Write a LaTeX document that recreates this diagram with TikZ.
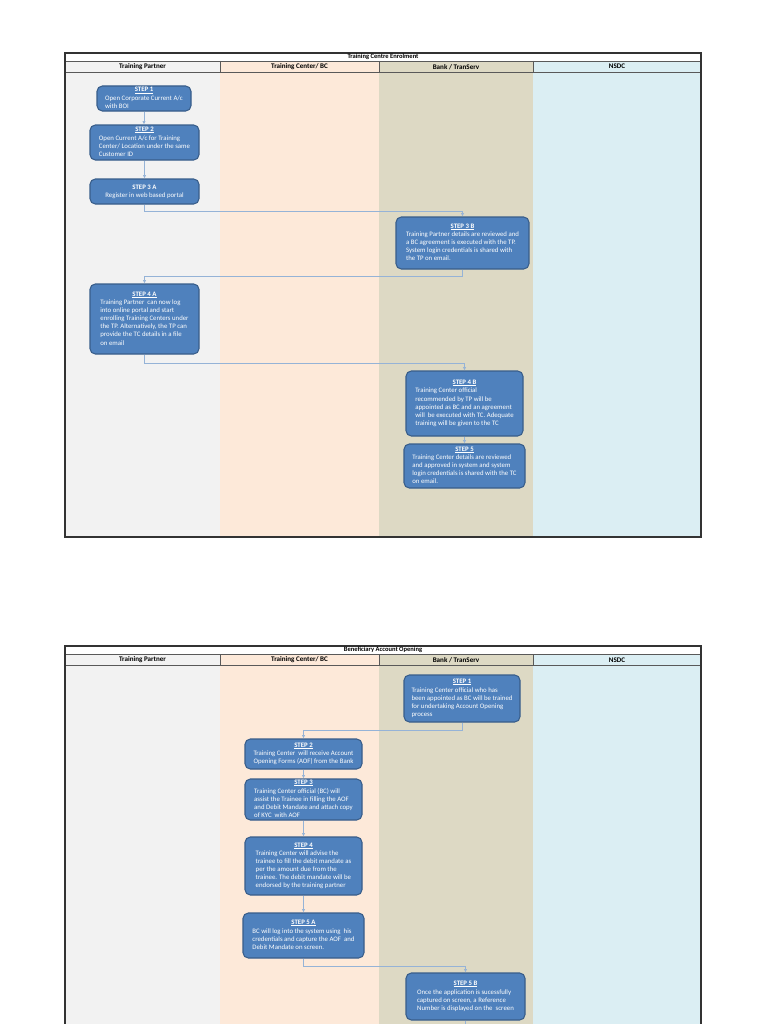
\documentclass[tikz,border=0pt]{standalone}
\usepackage{fontspec}
\setmainfont{Carlito}
\usetikzlibrary{arrows.meta}
\definecolor{laneA}{HTML}{F2F2F2}
\definecolor{laneB}{HTML}{FDE9D9}
\definecolor{laneC}{HTML}{DDD9C4}
\definecolor{laneD}{HTML}{DBEEF3}
\definecolor{boxfill}{HTML}{4F81BD}
\definecolor{boxline}{HTML}{385D8A}
\definecolor{connc}{HTML}{95B3D7}
\newcommand\stepul[1]{\setbox0\hbox{#1}\rlap{\rule[-0.7pt]{\wd0}{0.3pt}}\box0}
\tikzset{
  stepbox/.style={draw=boxline, fill=boxfill, line width=0.8pt, rounded corners=4pt,
    text=white, inner sep=0pt,
    font=\fontsize{5.1}{6.1}\selectfont},
  conn/.style={draw=connc, line width=0.7pt, -{Latex[length=2.6pt,width=2.6pt]}},
  hdr/.style={font=\fontsize{5.3}{6}\bfseries\selectfont, inner sep=0pt},
  ttl/.style={font=\fontsize{4.9}{5}\bfseries\selectfont, inner sep=0pt},
  gridl/.style={draw=black!65, line width=0.4pt}
}
% name, x1, y1, x2, y2, title, body
\newcommand\mkstep[7]{%
  \pgfmathsetmacro\bw{(#4-#2)*0.75}%
  \pgfmathsetmacro\bh{(#5-#3)*0.75}%
  \node[stepbox, minimum width=\bw pt, minimum height=\bh pt]
    (#1) at ({(#2+#4)/2},{(#3+#5)/2})
    {\begin{tabular}{@{}l@{}}\multicolumn{1}{@{}c@{}}{\bfseries #6}\\#7\end{tabular}};}
% prefix, top y, bottom y, title
\newcommand\mktable[4]{%
  \fill[laneA] (65,#2+8) rectangle (220,#3);
  \fill[laneB] (220,#2+8) rectangle (379,#3);
  \fill[laneC] (379,#2+8) rectangle (533,#3);
  \fill[laneD] (533,#2+8) rectangle (701,#3);
  \fill[white] (65,#2) rectangle (701,#2+8);
  \draw[gridl] (65,#2+8) -- (701,#2+8);
  \draw[gridl] (65,#2+19) -- (701,#2+19);
  \draw[gridl] (220,#2+8) -- (220,#2+19);
  \draw[gridl] (379,#2+8) -- (379,#2+19);
  \draw[gridl] (533,#2+8) -- (533,#2+19);
  \draw[draw=black!80, line width=1.1pt] (65,#2) rectangle (701,#3);
  \node[ttl] (#1t) at (383,#2+4.2) {#4};
  \node[hdr] (#1h1) at (142.5,#2+13.7) {Training Partner};
  \node[hdr] (#1h2) at (299.5,#2+13.7) {Training Center/ BC};
  \node[hdr] (#1h3) at (456,#2+13.7) {Bank / TranServ};
  \node[hdr] (#1h4) at (617,#2+13.7) {NSDC};
}
\begin{document}
\begin{tikzpicture}[x=0.75pt,y=-0.75pt]
\useasboundingbox (0,0) rectangle (768,1024);
\fill[white] (0,0) rectangle (768,1024);
\clip (0,0) rectangle (768,1024);

% ---------- Table 1 ----------
\mktable{ta}{53}{537}{Training Centre Enrolment}

\mkstep{s1}{97}{86}{191}{111}{\stepul{STEP 1}}{Open Corporate Current A/c\\with BOI}
\mkstep{s2}{90}{125}{199}{160}{\stepul{STEP 2}}{Open Current A/c for Training\\Center/ Location under the same\\Customer ID}
\mkstep{s3a}{90}{179}{199}{204}{STEP 3 A}{Register in web based portal}
\mkstep{s3b}{396}{217}{529}{269}{\stepul{STEP 3 B}}{Training Partner details are reviewed and\\a BC agreement is executed with the TP.\\System login credentials is shared with\\the TP on email.}
\mkstep{s4a}{90}{284}{199}{354}{\stepul{STEP 4 A}}{Training Partner \ can now log\\into online portal and start\\enrolling Training Centers under\\the TP. Alternatively, the TP can\\provide the TC details in a file\\on email}
\mkstep{s4b}{406}{371}{523}{436}{\stepul{STEP 4 B}}{Training Center official\\recommended by TP will be\\appointed as BC and an agreement\\will \ be executed with TC. Adequate\\training will be given to the TC}
\mkstep{s5}{404}{444}{525}{488}{\stepul{STEP 5}}{Training Center details are reviewed\\and approved in system and system\\login credentials is shared with the TC\\on email.}

\draw[conn] (s1.south) -- (s1.south |- s2.north);
\draw[conn] (s2.south) -- (s2.south |- s3a.north);
\draw[conn] (s3a.south) -- ++(0,7) -| (s3b.north);
\draw[conn] (s3b.south) -- ++(0,7) -| (s4a.north);
\draw[conn] (s4a.south) -- ++(0,9) -| (s4b.north);
\draw[conn] (s4b.south) -- (s4b.south |- s5.north);

% ---------- Table 2 ----------
\mktable{tb}{646}{1045}{Beneficiary Account Opening}

\mkstep{b1}{404}{675}{520}{722}{\stepul{STEP 1}}{Training Center official who has\\been appointed as BC will be trained\\for undertaking Account Opening\\process}
\mkstep{b2}{245}{739}{362}{769}{\stepul{STEP 2}}{Training Center \ will receive Account\\Opening Forms (AOF) from the Bank}
\mkstep{b3}{245}{779}{362}{820}{\stepul{STEP 3}}{Training Center official (BC) will\\assist the Trainee in filling the AOF\\and Debit Mandate and attach copy\\of KYC \ with AOF}
\mkstep{b4}{245}{837}{362}{895}{\stepul{STEP 4}}{Training Center will advise the\\trainee to fill the debit mandate as\\per the amount due from the\\trainee. The debit mandate will be\\endorsed by the training partner}
\mkstep{b5a}{243}{913}{364}{958}{\stepul{STEP 5 A}}{BC will log into the system using \ his\\credentials and capture the AOF \ and\\Debit Mandate on screen.}
\mkstep{b5b}{406}{973}{525}{1020}{\stepul{STEP 5 B}}{Once the application is sucessfully\\captured on screen, a Reference\\Number is displayed on the \ screen}

\coordinate (bend) at (465.5,1035);
\draw[conn] (b1.south) -- ++(0,8) -| (b2.north);
\draw[conn] (b2.south) -- (b2.south |- b3.north);
\draw[conn] (b3.south) -- (b3.south |- b4.north);
\draw[conn] (b4.south) -- (b4.south |- b5a.north);
\draw[conn] (b5a.south) -- ++(0,8) -| (b5b.north);
\draw[draw=connc, line width=0.7pt] (b5b.south) -- (bend);
\end{tikzpicture}
\end{document}
